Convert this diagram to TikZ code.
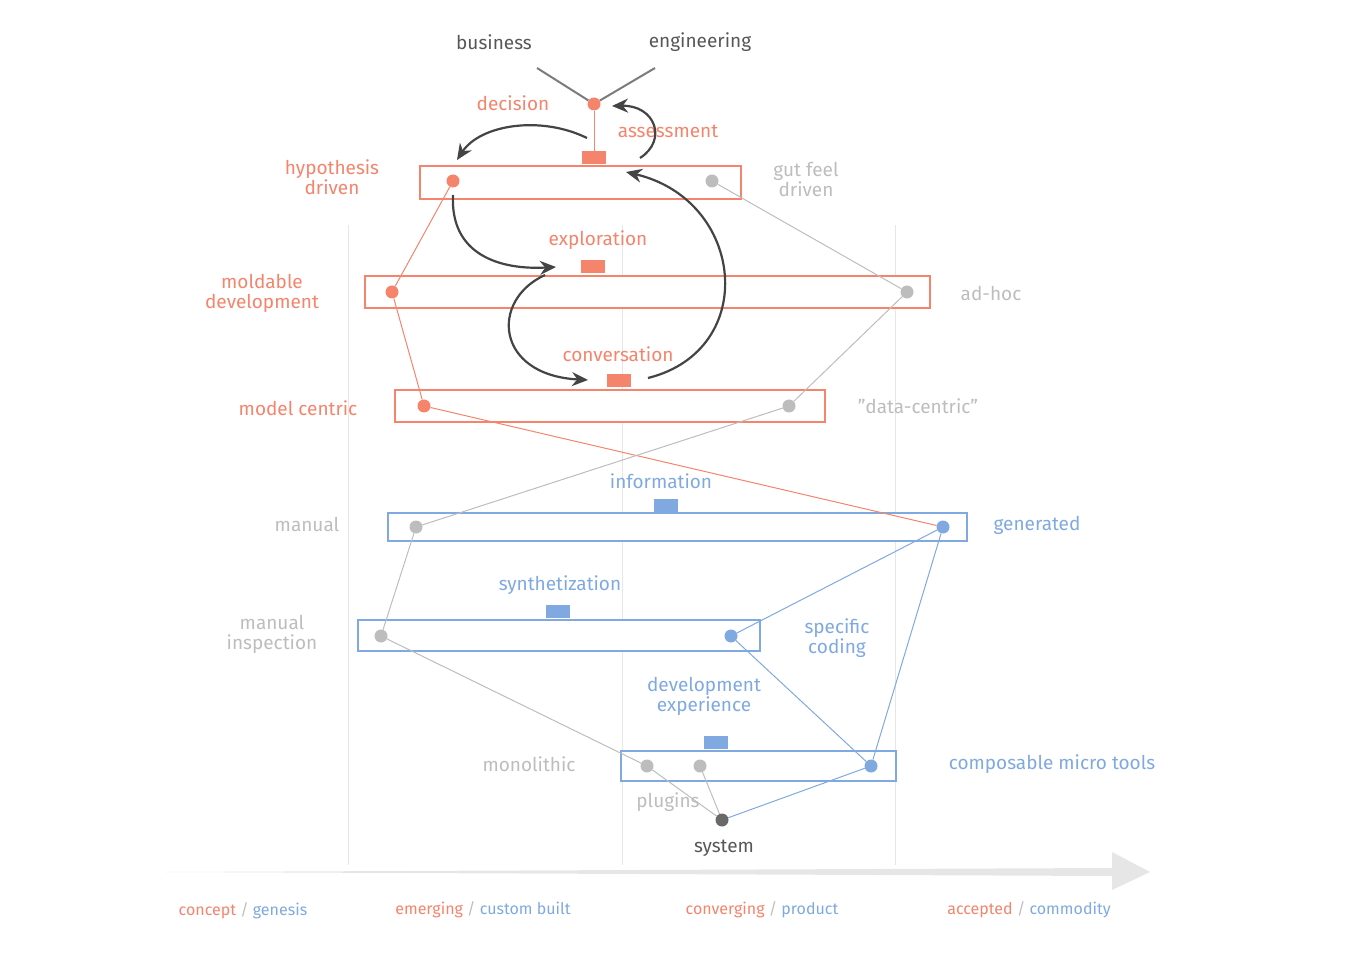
\documentclass[tikz,border=0pt]{standalone}
\usepackage{fontspec}
\setmainfont{Fira Sans}
\usetikzlibrary{arrows.meta}
\definecolor{sal}{HTML}{F4846C}
\definecolor{blu}{HTML}{7FA9E0}
\definecolor{gry}{HTML}{BDBDBD}
\definecolor{drk}{HTML}{444444}
\definecolor{vln}{HTML}{E6E6E6}
\begin{document}
\begin{tikzpicture}[x=1pt,y=-1pt,
  lab/.style={font=\fontsize{19}{20}\selectfont, align=center, inner sep=0},
  sl/.style={lab,text=sal}, bl/.style={lab,text=blu}, gl/.style={lab,text=gry},
  bar/.style={line width=1.3pt, fill=white},
  dot/.style={circle, minimum size=13pt, inner sep=0},
  sq/.style={minimum width=24pt, minimum height=13pt, inner sep=0},
  bot/.style={font=\fontsize{16}{17}\selectfont, inner sep=0},
  big/.style={drk, line width=2.2pt, -{Stealth[length=16pt,width=14pt]}}]
\useasboundingbox (0,0) rectangle (1358,957);
% vertical guides
\foreach \x in {348,622,895} \draw[vln, line width=1pt] (\x,225) -- (\x,865);
% evolution arrow
\fill[vln] (165,872) -- (1112,868) -- (1112,852) -- (1150,872) -- (1112,890) -- (1112,876) -- cycle;
\node[bot] at (243,911) {\textcolor{sal}{concept} \textcolor{gry}{/} \textcolor{blu}{genesis}};
\node[bot] at (483,910) {\textcolor{sal}{emerging} \textcolor{gry}{/} \textcolor{blu}{custom built}};
\node[bot] at (762,910) {\textcolor{sal}{converging} \textcolor{gry}{/} \textcolor{blu}{product}};
\node[bot] at (1029,910) {\textcolor{sal}{accepted} \textcolor{gry}{/} \textcolor{blu}{commodity}};
% bars
\draw[bar, draw=sal] (420,166) rectangle (741,199);
\draw[bar, draw=sal] (365,276) rectangle (930,308);
\draw[bar, draw=sal] (395,390) rectangle (825,422);
\draw[bar, draw=blu] (388,513) rectangle (967,541);
\draw[bar, draw=blu] (358,620) rectangle (760,651);
\draw[bar, draw=blu] (621,751) rectangle (896,781);
% dots
\node[dot, fill=sal] (dec) at (594,104) {};
\node[dot, fill=sal] (hyp) at (453,181) {};
\node[dot, fill=gry] (gut) at (712,181) {};
\node[dot, fill=sal] (mol) at (392,292) {};
\node[dot, fill=gry] (adh) at (907,292) {};
\node[dot, fill=sal] (mod) at (424,406) {};
\node[dot, fill=gry] (dat) at (789,406) {};
\node[dot, fill=gry] (man) at (416,527) {};
\node[dot, fill=blu] (gen) at (943,527) {};
\node[dot, fill=gry] (mi) at (381,636) {};
\node[dot, fill=blu] (spc) at (731,636) {};
\node[dot, fill=gry] (mono) at (647,766) {};
\node[dot, fill=gry] (plg) at (700,766) {};
\node[dot, fill=blu] (cmt) at (871,766) {};
\node[dot, fill=drk!80] (sys) at (722,820) {};
% squares
\node[sq, fill=sal] (sq1) at (594,158) {};
\node[sq, fill=sal] (sq2) at (593,267) {};
\node[sq, fill=sal] (sq3) at (619,381) {};
\node[sq, fill=blu] (sq4) at (666,505) {};
\node[sq, fill=blu] (sq5) at (558,611) {};
\node[sq, fill=blu] (sq6) at (716,742) {};
% top
\node[lab, text=drk!90] (bus) at (494,42) {business};
\node[lab, text=drk!90] (eng) at (700,42) {engineering};
\coordinate (b1) at (537,68); \coordinate (e1) at (655,68);
\draw[drk!70, line width=2pt] (b1) -- (dec); \draw[drk!70, line width=2pt] (e1) -- (dec);
\draw[sal, line width=1pt] (dec) -- (sq1);
% connectors
\draw[sal, line width=1pt] (hyp) -- (mol) -- (mod) -- (gen);
\draw[gry, line width=1pt] (gut) -- (adh) -- (dat) -- (man) -- (mi) -- (mono) -- (sys);
\draw[gry, line width=1pt] (plg) -- (sys);
\draw[blu, line width=1pt] (gen) -- (spc) -- (cmt) -- (gen);
\draw[blu, line width=1pt] (cmt) -- (sys);
% labels
\node[sl] at (513,103) {decision};
\node[sl] at (668,131) {assessment};
\node[sl] at (332,177) {hypothesis\\driven};
\node[gl] at (806,179) {gut feel\\driven};
\node[sl] at (598,240) {exploration};
\node[sl] at (262,293) {moldable\\development};
\node[gl] at (991,293) {ad-hoc};
\node[sl] at (618,354) {conversation};
\node[sl] at (298,408) {model centric};
\node[gl] at (918,406) {"data-centric"};
\node[bl] at (661,481) {information};
\node[gl] at (307,524) {manual};
\node[bl] at (1037,525) {generated};
\node[bl] at (560,585) {synthetization};
\node[gl] at (272,634) {manual\\inspection};
\node[bl] at (837,638) {specific\\coding};
\node[bl] at (704,696) {development\\experience};
\node[gl] at (529,764) {monolithic};
\node[bl] at (1052,764) {composable micro tools};
\node[gl] at (668,802) {plugins};
\node[lab, text=drk!90] at (724,848) {system};
% dark arrows
\draw[big] (587,138) .. controls (540,115) and (480,125) .. (457,160);
\draw[big] (640,158) .. controls (668,140) and (655,105) .. (612,106);
\draw[big] (453,195) .. controls (450,255) and (500,270) .. (556,267);
\draw[big] (545,275) .. controls (490,300) and (495,375) .. (588,380);
\draw[big] (648,378) .. controls (760,350) and (745,200) .. (626,172);
\end{tikzpicture}
\end{document}
